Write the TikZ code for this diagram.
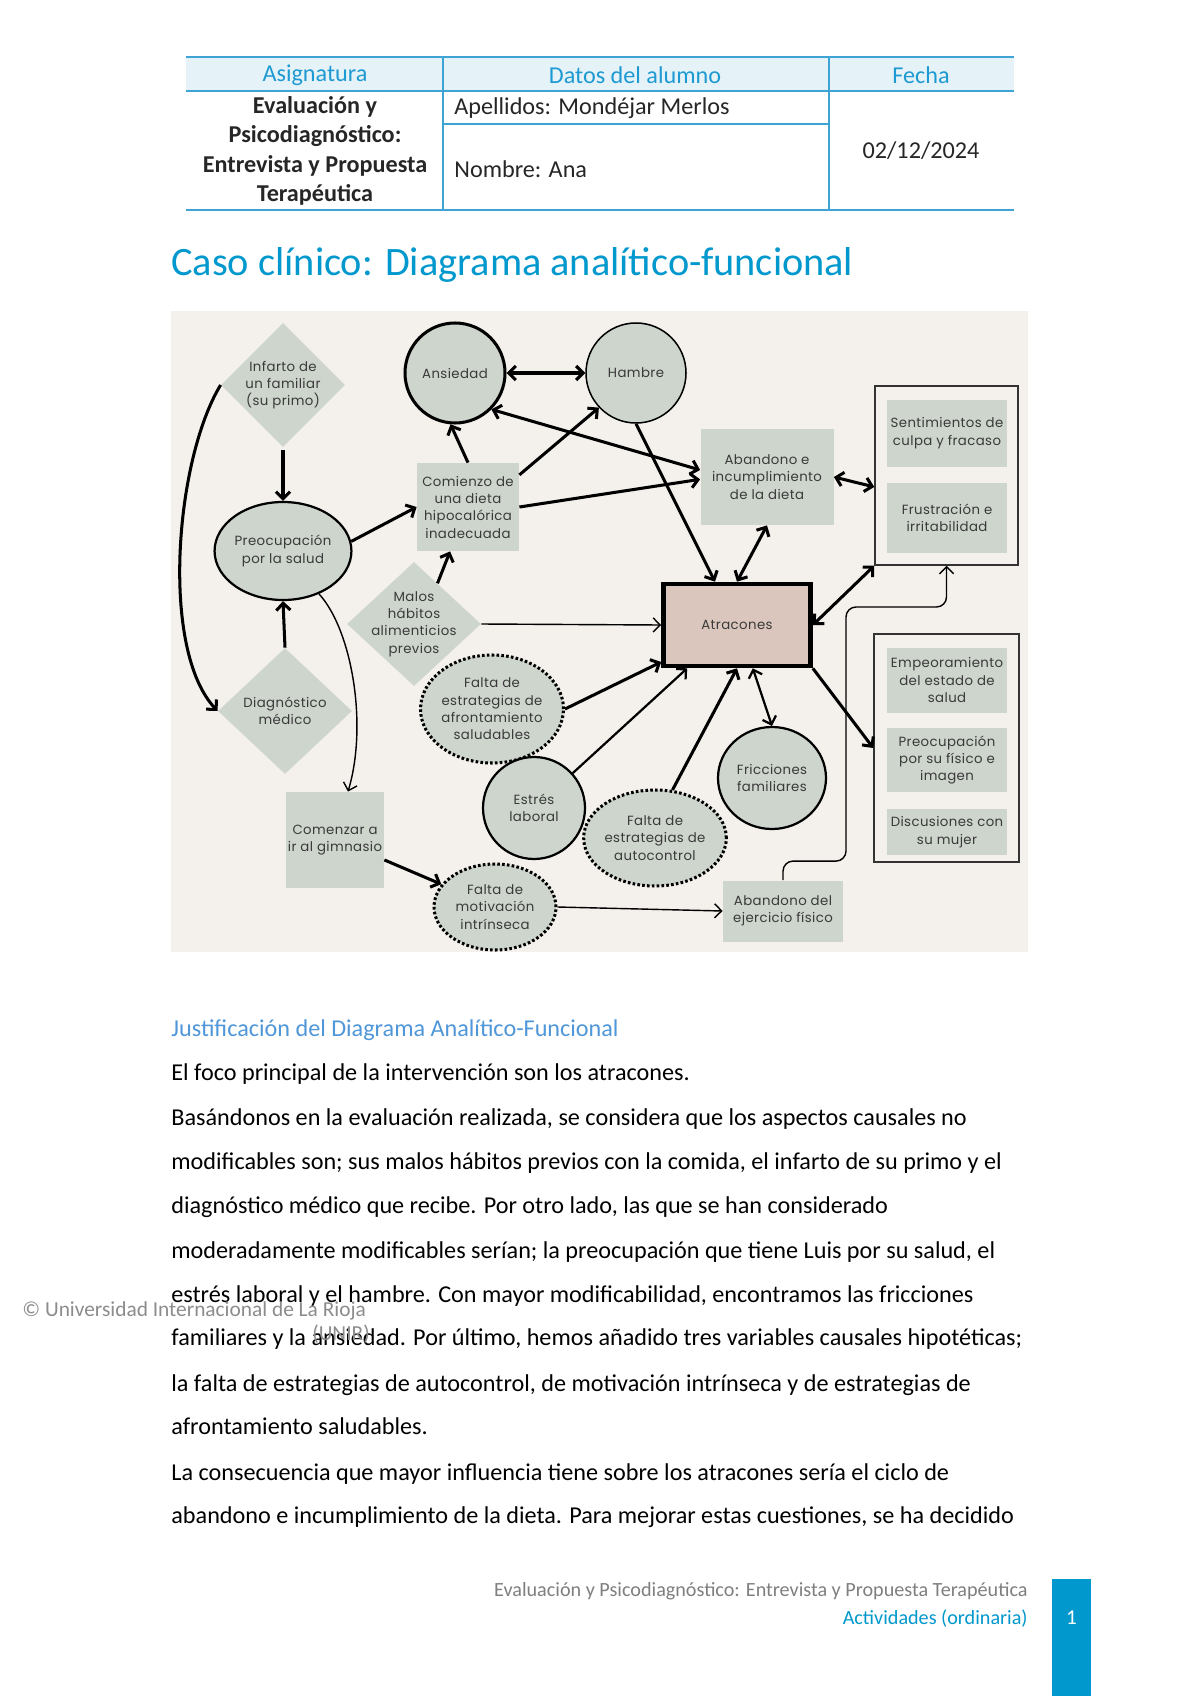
\documentclass[tikz,border=0pt]{standalone}
\usepackage{fontspec}
\setmainfont{Carlito}
\newfontfamily\dfont[LetterSpace=3]{Poppins}
\usetikzlibrary{shapes.geometric,arrows.meta}
\newdimen\px \px=0.4961pt
\definecolor{unirblue}{HTML}{0098CD}
\definecolor{tabline}{HTML}{3DA4D4}
\definecolor{tabhead}{HTML}{E5F2F8}
\definecolor{headtxt}{HTML}{1E9AD2}
\definecolor{diagbg}{HTML}{F4F0EB}
\definecolor{sage}{HTML}{CDD5CC}
\definecolor{rose}{HTML}{DBC6BD}
\definecolor{ink}{HTML}{3A3A3A}
\definecolor{subblue}{HTML}{4F97D8}
\definecolor{footgray}{HTML}{7F7F7F}
\definecolor{wmgray}{HTML}{8C8C8C}
\begin{document}
\begin{tikzpicture}[x=\px,y=-\px,
  dtxt/.style={text=ink, font=\dfont\fontsize{6.6}{8.6}\selectfont, align=center},
  dn/.style={dtxt, fill=sage, inner sep=0pt},
  rbox/.style={dn, rectangle},
  circ/.style={dn, ellipse, draw=black},
  dotell/.style={dn, ellipse, draw=black, line width=1.5pt, dash pattern=on 1.3pt off 1.1pt},
  dia/.style={dn, diamond, minimum width=124\px, minimum height=124\px},
  frame/.style={draw=black!80, line width=0.75pt, fill=none, inner sep=0pt},
  thk/.style={line width=1.5pt},
  med/.style={line width=1.1pt},
  thn/.style={line width=0.7pt},
  ar/.style={-{Straight Barb[length=3.5pt,width=7pt]}},
  dar/.style={{Straight Barb[length=3.5pt,width=7pt]}-{Straight Barb[length=3.5pt,width=7pt]}},
  tabtxt/.style={font=\fontsize{12}{14}\selectfont, inner sep=0pt},
  body/.style={font=\fontsize{12}{14}\selectfont, anchor=base west, inner sep=0pt, text=black}
]
\useasboundingbox[fill=white] (0,0) rectangle (1200,1696);

% ---------- table ----------
\fill[tabhead] (186,57) rectangle (1014,91);
\draw[tabline, line width=0.8pt] (186,57) -- (1014,57);
\draw[tabline, line width=0.8pt] (186,91) -- (1014,91);
\draw[tabline, line width=0.8pt] (443,124) -- (829,124);
\draw[tabline, line width=0.8pt] (186,210) -- (1014,210);
\draw[tabline, line width=0.8pt] (443,57) -- (443,210);
\draw[tabline, line width=0.8pt] (829,57) -- (829,210);
\node[tabtxt, text=headtxt] (h1) at (315,75) {Asignatura};
\node[tabtxt, text=headtxt] (h2) at (635,75) {Datos del alumno};
\node[tabtxt, text=headtxt] (h3) at (921,75) {Fecha};
\node[tabtxt, font=\bfseries\fontsize{12}{14.6}\selectfont, align=center, text=black!85] (asig) at (315,151)
  {Evaluación y\\Psicodiagnóstico:\\Entrevista y Propuesta\\Terapéutica};
\node[tabtxt, anchor=west, text=black!85] (ape) at (454,108) {Apellidos: Mondéjar Merlos};
\node[tabtxt, anchor=west, text=black!85] (nom) at (454,169) {Nombre: Ana};
\node[tabtxt, text=black!85] (fecha) at (921,151) {02/12/2024};

% ---------- title ----------
\node[anchor=base west, inner sep=0pt, text=unirblue, font=\fontsize{20}{24}\selectfont] (title) at (171,276)
  {Caso clínico: Diagrama analítico-funcional};

% ---------- diagram ----------
\fill[diagbg] (171,311) rectangle (1028,952);

\node[dia, label={[dtxt]center:Infarto de\\un familiar\\(su primo)}] (inf) at (283,385) {};
\node[circ, line width=1.5pt, minimum width=100\px, minimum height=100\px] (ans) at (455,373) {Ansiedad};
\node[circ, line width=0.75pt, minimum width=100\px, minimum height=100\px] (ham) at (636,373) {Hambre};
\node[rbox, minimum width=102\px, minimum height=88\px] (com) at (468,507) {Comienzo de\\una dieta\\hipocalórica\\inadecuada};
\node[circ, line width=1.1pt, minimum width=136\px, minimum height=98\px] (pre) at (283,551) {Preocupación\\por la salud};
\node[rbox, minimum width=133\px, minimum height=96\px] (aban) at (767,477) {Abandono e\\incumplimiento\\de la dieta};

\node[frame, minimum width=143\px, minimum height=179\px] (out1) at (946.5,475.5) {};
\node[rbox, minimum width=120\px, minimum height=67\px] (culpa) at (947,433) {Sentimientos de\\culpa y fracaso};
\node[rbox, minimum width=120\px, minimum height=70\px] (frus) at (947,518) {Frustración e\\irritabilidad};

\node[rbox, fill=rose, draw=black, line width=2.3pt, minimum width=147\px, minimum height=82\px] (atr) at (737,625) {Atracones};

\node[dia, minimum width=134\px, label={[dtxt]center:Malos\\hábitos\\alimenticios\\previos}] (mal) at (414,624) {};
\node[dotell, minimum width=138\px, minimum height=108\px] (afr) at (492,709) {Falta de\\estrategias de\\afrontamiento\\saludables};
\node[dia, minimum width=134\px, minimum height=126\px, label={[dtxt]center:Diagnóstico\\médico}] (diag) at (285,711) {};
\node[rbox, minimum width=98\px, minimum height=96\px] (gym) at (335,840) {Comenzar a\\ir al gimnasio};
\node[circ, line width=1.1pt, minimum width=102\px, minimum height=102\px] (est) at (534,808) {Estrés\\laboral};
\node[dotell, minimum width=132\px, minimum height=96\px] (aut) at (655,838) {Falta de\\estrategias de\\autocontrol};
\node[circ, line width=1.1pt, minimum width=108\px, minimum height=102\px] (fri) at (772,778) {Fricciones\\familiares};
\node[dotell, minimum width=122\px, minimum height=86\px] (mot) at (495,907) {Falta de\\motivación\\intrínseca};
\node[rbox, minimum width=120\px, minimum height=61\px] (eje) at (783,911) {Abandono del\\ejercicio físico};

\node[frame, minimum width=145\px, minimum height=228\px] (out2) at (946.5,748) {};
\node[rbox, minimum width=120\px, minimum height=65\px] (emp) at (947,680) {Empeoramiento\\del estado de\\salud};
\node[rbox, minimum width=120\px, minimum height=64\px] (fis) at (947,760) {Preocupación\\por su físico e\\imagen};
\node[rbox, minimum width=120\px, minimum height=46\px] (mujer) at (947,832) {Discusiones con\\su mujer};

% connectors
\draw[thk, ar, shorten <=3\px] (inf.south) -- (pre.north);
\draw[thk, ar] (diag.north) -- (pre.south);
\draw[thk, ar] (inf.west) .. controls (175,460) and (160,650) .. (diag.west);
\draw[thn, ar] (pre.-50) .. controls (352,630) and (368,725) .. (gym.75);
\draw[thk, ar] (pre.8) -- (com.west);
\draw[thk, ar] (com.north) -- (ans.-95);
\draw[thk, ar] (com.32) -- (ham.223);
\draw[thk, ar] (com.east) -- (aban.182);
\draw[thk, dar] (ans.-45) -- (aban.174);
\draw[thk, dar] (ans.east) -- (ham.west);
\draw[thk, ar] (ham.south) -- (atr.117);
\draw[thk, dar] (aban.south) -- (atr.north);
\draw[thk, dar] (aban.east) -- (out1.189);
\draw[thk, dar] (atr.east) -- (out1.south west);
\draw[thk, ar] (atr.south east) -- (out2.west);
\draw[thk, ar] (mal.60) -- (com.-112);
\draw[thn, ar] (mal.east) -- (atr.west);
\draw[thk, ar] (afr.east) -- (atr.206);
\draw[med, ar] (est.42) -- (atr.-139);
\draw[thk, ar] (aut.70) -- (atr.south);
\draw[med, dar] (atr.-70) -- (fri.north);
\draw[thk, ar] (gym.-22) -- (mot.157);
\draw[thn, ar] (mot.east) -- (eje.west);
\coordinate (bend) at (846,607);
\draw[thn, ar, rounded corners=10\px] (eje.north) -- ++(0,-19) -| (bend) -| (out1.south);

% ---------- body text ----------
\node[body, text=subblue] (sub) at (171,1036) {Justificación del Diagrama Analítico-Funcional};
\node[body] (l1) at (171,1080) {El foco principal de la intervención son los atracones.};
\node[body] (l2) at (171,1125) {Basándonos en la evaluación realizada, se considera que los aspectos causales no};
\node[body] (l3) at (171,1169) {modificables son; sus malos hábitos previos con la comida, el infarto de su primo y el};
\node[body] (l4) at (171,1213) {diagnóstico médico que recibe. Por otro lado, las que se han considerado};
\node[body] (l5) at (171,1258) {moderadamente modificables serían; la preocupación que tiene Luis por su salud, el};
\node[body] (l6) at (171,1302) {estrés laboral y el hambre. Con mayor modificabilidad, encontramos las fricciones};
\node[body] (l7) at (171,1345) {familiares y la ansiedad. Por último, hemos añadido tres variables causales hipotéticas;};
\node[body] (l8) at (171,1391) {la falta de estrategias de autocontrol, de motivación intrínseca y de estrategias de};
\node[body] (l9) at (171,1434) {afrontamiento saludables.};
\node[body] (l10) at (171,1480) {La consecuencia que mayor influencia tiene sobre los atracones sería el ciclo de};
\node[body] (l11) at (171,1523) {abandono e incumplimiento de la dieta. Para mejorar estas cuestiones, se ha decidido};

% watermark
\node[anchor=base west, inner sep=0pt, text=wmgray, font=\fontsize{10.6}{12}\selectfont] (wm1) at (22,1316) {© Universidad Internacional de La Rioja};
\node[anchor=base, inner sep=0pt, text=wmgray, font=\fontsize{10.6}{12}\selectfont] (wm2) at (341,1340) {(UNIR)};

% ---------- footer ----------
\node[anchor=base east, inner sep=0pt, text=footgray, font=\fontsize{10}{12}\selectfont] (f1) at (1028,1596) {Evaluación y Psicodiagnóstico: Entrevista y Propuesta Terapéutica};
\node[anchor=base east, inner sep=0pt, text=unirblue, font=\fontsize{10}{12}\selectfont] (f2) at (1028,1624) {Actividades (ordinaria)};
\fill[unirblue] (1052,1579) rectangle (1091,1696);
\node[anchor=base, inner sep=0pt, text=white, font=\fontsize{10.5}{12}\selectfont] (pg) at (1071.5,1624) {1};
\end{tikzpicture}
\end{document}
